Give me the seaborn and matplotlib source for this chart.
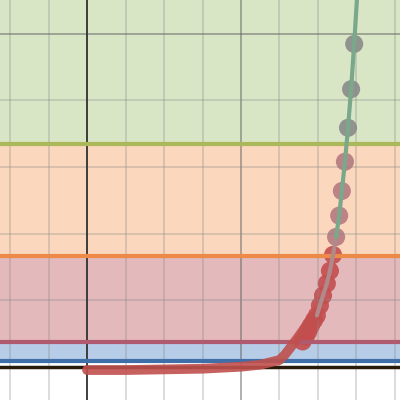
import matplotlib
matplotlib.use("Agg")
import matplotlib.pyplot as plt
import seaborn as sns
import pandas as pd

curve_x = [0, 1, 2, 3, 4, 4.5, 5.0, 5.14, 5.3, 5.53, 5.79, 5.97, 6.05, 6.13, 6.23, 6.31, 6.39, 6.47, 6.55, 6.62, 6.70, 6.78, 6.86, 6.94, 7.02]
curve_y = [-0.05, -0.05, -0.04, -0.03, 0.0, 0.03, 0.1, 0.18, 0.3, 0.48, 0.7, 0.77, 0.92, 1.07, 1.25, 1.44, 1.68, 1.95, 2.27, 2.64, 3.08, 3.59, 4.17, 4.85, 5.6]
pt_x = [5.6, 5.68, 5.75, 5.82, 5.9, 5.97, 6.05, 6.13, 6.23, 6.31, 6.39, 6.47, 6.55, 6.62, 6.70, 6.78, 6.86, 6.94]
pt_y = [0.38, 0.45, 0.53, 0.62, 0.7, 0.77, 0.92, 1.07, 1.25, 1.44, 1.68, 1.95, 2.27, 2.64, 3.08, 3.59, 4.17, 4.85]
bands = [(0.08, 0.37, "#6f9bd1"), (0.37, 1.67, "#c9747a"), (1.67, 3.35, "#f9b07c"), (3.35, 6.0, "#b5cf8c")]
band_lines = [(0.08, "#3f6fa8"), (0.37, "#b05a70"), (1.67, "#ee8a48"), (3.35, "#aab85a")]

sns.set_style("white")
fig = plt.figure(figsize=(4, 4), dpi=100)
ax = fig.add_axes([0, 0, 1, 1])
ax.set_xlim(-2.26, 8.13)
ax.set_ylim(-0.5, 5.51)
for lo, hi, c in bands:
    ax.axhspan(lo, hi, color=c, alpha=0.5, lw=0)
for v in range(-2, 9):
    ax.axvline(v, color="#888888" if v != 4 else "#666666", alpha=0.35 if v != 4 else 0.6, lw=1.2)
for v in range(0, 6):
    ax.axhline(v, color="#888888" if v != 5 else "#666666", alpha=0.35 if v != 5 else 0.6, lw=1.2)
ax.axvline(0, color="#333333", lw=1.3)
for y, c in band_lines:
    ax.axhline(y, color=c, lw=3)
ax.axhline(0, color="#2a1a0a", lw=2.5)

df = pd.DataFrame({"x": curve_x, "y": curve_y})
n = len(df)
low = df.iloc[:12]
ax.plot(low.x, low.y, color="#c0504d", lw=7, alpha=0.9, solid_capstyle="round")
mid = df.iloc[11:18]
ax.plot(mid.x, mid.y, color="#b08a8a", lw=3)
top = df.iloc[17:]
ax.plot(top.x, top.y, color="#7aa88a", lw=3)

pts = pd.DataFrame({"x": pt_x, "y": pt_y})
colors = []
for y in pt_y:
    if y <= 1.7:
        colors.append("#c44e4e")
    elif y <= 3.2:
        colors.append("#b67a82")
    else:
        colors.append("#8a8a8a")
pts["c"] = colors
sns.scatterplot(data=pts, x="x", y="y", hue="c", palette={c: c for c in set(colors)},
                s=170, edgecolor="none", alpha=0.9, legend=False, ax=ax)
ax.set_xticks([]); ax.set_yticks([])
ax.set_xlabel(""); ax.set_ylabel("")
for s in ax.spines.values():
    s.set_visible(False)
fig.savefig("out.png", dpi=100)
